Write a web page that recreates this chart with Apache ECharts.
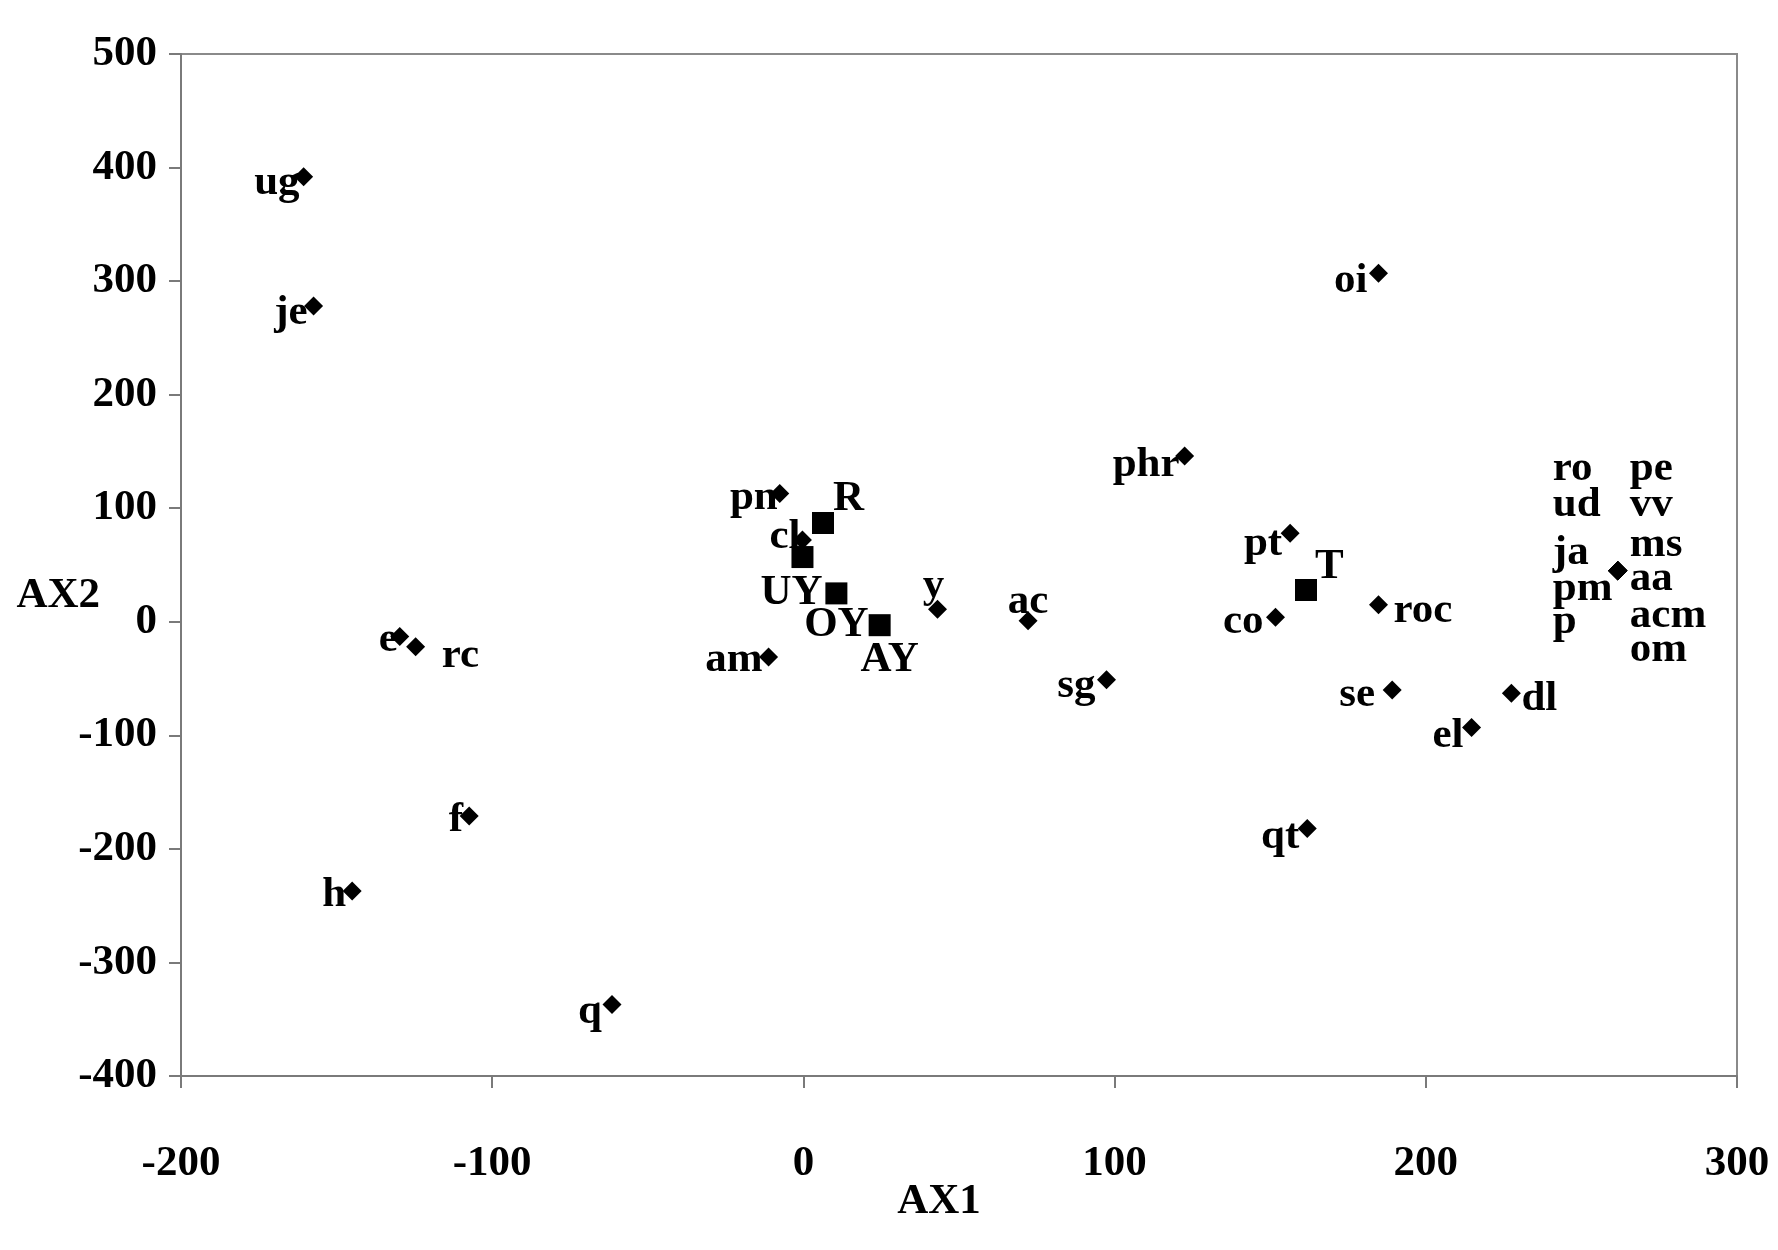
<!DOCTYPE html>
<html><head><meta charset="utf-8">
<script src="https://cdn.jsdelivr.net/npm/echarts@6/dist/echarts.min.js"></script>
<style>html,body{margin:0;padding:0;background:#fff}#c{width:1778px;height:1250px}</style>
</head><body><div id="c"></div>
<script>
// ---- data ----
const diamondNames = ['ug','je','e','rc','f','h','q','pn','cl','am','y','ac','sg','phr','oi','pt','co','roc','se','el','dl','qt','ro','ud','ja','pm','p','pe','vv','ms','aa','acm','om'];
const diamondX = [-160.6,-157.4,-129.7,-124.6,-107.4,-145,-61.5,-7.6,-0.3,-11.2,43.1,72.2,97.4,122.5,184.8,156.4,151.7,184.8,189.2,214.7,227.5,161.9,261.7,261.7,261.7,261.7,261.7,261.7,261.7,261.7,261.7,261.7,261.7];
const diamondY = [392,278,-13,-22,-171,-237,-337,113,72,-31,11,1,-51,146,307,78,4,15,-60,-93,-63,-182,45,45,45,45,45,45,45,45,45,45,45];
const squareNames = ['R','UY','OY','AY','T'];
const squareX = [6.3,-0.3,10.6,24.5,161.5];
const squareY = [87,57,25,-3,28];
const xAxisName = 'AX1';
const yAxisName = 'AX2';

// ---- label placement (style only): [dx, dy, align] from marker centre, px ----
const labelLayout = {
  ug:[-4,6,'right'], je:[-6,7,'right'], e:[-2,3,'right'], rc:[26,9,'left'],
  f:[-6,4,'right'], h:[-6,4,'right'], q:[-10,7,'right'], pn:[-2,4,'right'],
  cl:[-2,-3,'right'], am:[-6,3,'right'], y:[-4,-23,'center'], ac:[0,-19,'center'],
  sg:[-11,6,'right'], phr:[-5,9,'right'], oi:[-11,8,'right'], pt:[-8,11,'right'],
  co:[-12,5,'right'], roc:[15,6,'left'], se:[-17,5,'right'], el:[-8,9,'right'],
  dl:[10,6,'left'], qt:[-8,8,'right'],
  ro:[-65,-102,'left'], ud:[-65,-66,'left'], ja:[-65,-18,'left'], pm:[-65,18,'left'], p:[-65,51,'left'],
  pe:[12,-102,'left'], vv:[12,-66,'left'], ms:[12,-26,'left'], aa:[12,8,'left'], acm:[12,45,'left'], om:[12,79,'left'],
  R:[10,-24,'left'], UY:[-11,36,'center'], OY:[0,32,'center'], AY:[10,35,'center'], T:[9,-23,'left']
};

const FONT = 'Liberation Serif, Times New Roman, serif';
const FS = 43;
const DSIZE = 19, SSIZE = 22;

function build(names, xs, ys, size) {
  return names.map((n, i) => {
    const l = labelLayout[n] || [0, 0, 'center'];
    return {
      name: n,
      value: [xs[i], ys[i]],
      label: {
        show: true, position: [size / 2 + l[0], size / 2 + l[1]], align: l[2], verticalAlign: 'middle',
        formatter: n, color: '#000', fontFamily: FONT, fontWeight: 'bold', fontSize: FS
      }
    };
  });
}

const axisLabelStyle = { color: '#000', fontFamily: FONT, fontWeight: 'bold', fontSize: FS };
const chart = echarts.init(document.getElementById('c'), null, { renderer: 'canvas' });
chart.setOption({
  backgroundColor: '#fff',
  animation: false,
  grid: { left: 181, right: 41, top: 54, bottom: 174, containLabel: false, outerBoundsMode: 'none',
          show: true, borderColor: '#8a8a8a', borderWidth: 2, backgroundColor: 'transparent' },
  xAxis: {
    type: 'value', min: -200, max: 300, interval: 100,
    name: xAxisName, nameLocation: 'middle', nameGap: 104, nameMoveOverlap: false,
    nameTextStyle: { color: '#000', fontFamily: FONT, fontWeight: 'bold', fontSize: FS, padding: [0, 40, 0, 0] },
    axisLine: { show: true, onZero: false, lineStyle: { color: '#7a7a7a', width: 2 } },
    axisTick: { show: true, length: 12, lineStyle: { color: '#7a7a7a', width: 2 } },
    axisLabel: Object.assign({ margin: 66 }, axisLabelStyle),
    splitLine: { show: false }
  },
  yAxis: {
    type: 'value', min: -400, max: 500, interval: 100,
    name: yAxisName, nameLocation: 'middle', nameGap: 81, nameRotate: 0, nameMoveOverlap: false,
    nameTextStyle: { color: '#000', fontFamily: FONT, fontWeight: 'bold', fontSize: FS, verticalAlign: 'top', align: 'right', padding: [9, 0, 0, 0] },
    axisLine: { show: true, onZero: false, lineStyle: { color: '#7a7a7a', width: 2 } },
    axisTick: { show: true, length: 12, lineStyle: { color: '#7a7a7a', width: 2 } },
    axisLabel: Object.assign({ margin: 24 }, axisLabelStyle),
    splitLine: { show: false }
  },
  series: [
    { type: 'scatter', symbol: 'diamond', symbolSize: DSIZE, itemStyle: { color: '#000', opacity: 1 },
      data: build(diamondNames, diamondX, diamondY, DSIZE) },
    { type: 'scatter', symbol: 'rect', symbolSize: SSIZE, itemStyle: { color: '#000', opacity: 1 },
      data: build(squareNames, squareX, squareY, SSIZE) }
  ]
});
</script>
</body></html>
